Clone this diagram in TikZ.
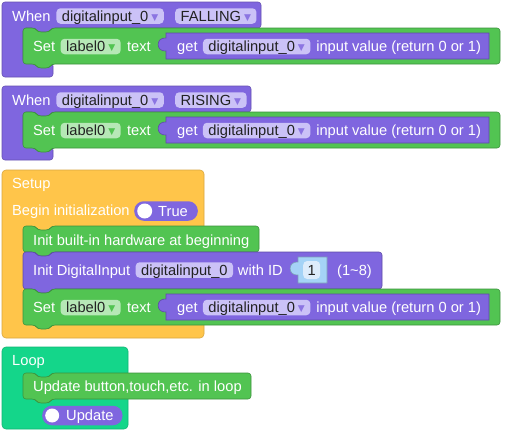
\documentclass[tikz,border=0pt]{standalone}
\usepackage{fontspec}
\setmainfont{Liberation Sans}
\newfontfamily\arrowfont{DejaVu Sans}
\usetikzlibrary{positioning}
\definecolor{blkPurple}{HTML}{7F66DF}
\definecolor{blkGreen}{HTML}{52C452}
\definecolor{blkYellow}{HTML}{FFC54A}
\definecolor{blkTeal}{HTML}{14D68A}
\definecolor{blkBlue}{HTML}{A5D3F6}
\definecolor{fldPurple}{HTML}{CBC2F7}
\definecolor{fldGreen}{HTML}{B6E8B6}
\definecolor{fldBlue}{HTML}{DDECFB}
\definecolor{fldText}{HTML}{222222}
\newcommand{\dropP}{\hspace{3pt}{\arrowfont\fontsize{9}{9}\selectfont\color{blkPurple!90!white}\raisebox{1pt}{▼}}}
\newcommand{\dropG}{\hspace{3pt}{\arrowfont\fontsize{9}{9}\selectfont\color{blkGreen}\raisebox{1pt}{▼}}}
\tikzset{
    blkFont/.style={font=\fontsize{14.67}{17}\selectfont, text height=12pt, text depth=2pt},
    blkLabel/.style={blkFont, text=white, inner sep=0pt, anchor=base west},
    blkField/.style={
        blkFont,
        text=fldText,
        rounded corners=4pt,
        inner xsep=5.5pt,
        inner ysep=0pt,
        minimum height=15.5pt,
        anchor=base west
    },
    % field variants
    fieldP/.style={blkField, fill=fldPurple},
    fieldG/.style={blkField, fill=fldGreen},
    fieldB/.style={blkField, fill=fldBlue, inner xsep=4.4pt, minimum height=18pt},
    toggle/.style={blkFont, text=white, fill=blkPurple, rounded corners=9.5pt, minimum height=19.5pt, inner xsep=0pt, inner ysep=0pt, anchor=west},
    knob/.style={circle, fill=white, minimum size=15pt, inner sep=0pt},
    % block shapes
    blkShape/.style={line width=0.6pt, rounded corners=3pt},
    pics/stmtblock/.style n args={3}{code={
        \filldraw[blkShape, fill=#3, draw=#3!75!black]
            (0,0) -- (12,0) -- (15,4) -- (26,4) -- (29,0) -- (#1,0) -- (#1,#2)
            -- (29,#2) -- (26,#2+4) -- (15,#2+4) -- (12,#2) -- (0,#2) -- cycle;
    }},
    pics/reporter/.style n args={3}{code={
        \filldraw[line width=0.6pt, fill=#3, draw=#3!75!black]
            (0,0) -- (#1,0) -- (#1,#2) -- (0,#2) -- (0,18)
            .. controls (-10.5,19) and (-10.5,4) .. (0,5) -- cycle;
    }}
}

\begin{document}
\begin{tikzpicture}[x=1pt, y=-1pt]
    \fill[white] (0,0) rectangle (507,437);
    \useasboundingbox (0,0) rectangle (507,437);

    % When ... FALLING
    \filldraw[blkShape, fill=blkPurple, draw=blkPurple!80!black]
        (2,2) -- (261,2) -- (261,28) -- (52,28) -- (49,32) -- (38,32) -- (35,28) -- (23,28)
        -- (23,63) -- (53,63) -- (53,77) -- (2,77) -- cycle;
    \pic at (23,28) {stmtblock={477}{36}{blkGreen}};
    \pic at (166,33) {reporter={323}{26}{blkPurple}};
    \node[blkLabel] (when1) at (12,21) {When};
    \node[fieldP, right=5.5pt of when1.base east, anchor=base west] (pin1) {digitalinput\_0\dropP};
    \node[fieldP, right=11pt of pin1.base east, anchor=base west] (edge1) {FALLING\dropP};
    \node[blkLabel] (set1) at (33,51.5) {Set};
    \node[fieldG, right=5pt of set1.base east, anchor=base west] (lbl1) {label0\dropG};
    \node[blkLabel, right=6pt of lbl1.base east, anchor=base west] (txt1) {text};
    \node[blkLabel] (get1) at (177,51.5) {get};
    \node[fieldP, right=5pt of get1.base east, anchor=base west] (pin2) {digitalinput\_0\dropP};
    \node[blkLabel, right=5.5pt of pin2.base east, anchor=base west] (val1) {input value (return 0 or 1)};

    % When ... RISING
    \filldraw[blkShape, fill=blkPurple, draw=blkPurple!80!black]
        (2,86) -- (251,86) -- (251,112) -- (52,112) -- (49,116) -- (38,116) -- (35,112) -- (23,112)
        -- (23,147) -- (53,147) -- (53,160) -- (2,160) -- cycle;
    \pic at (23,112) {stmtblock={477}{36}{blkGreen}};
    \pic at (166,117) {reporter={323}{26}{blkPurple}};
    \node[blkLabel] (when2) at (12,105) {When};
    \node[fieldP, right=5.5pt of when2.base east, anchor=base west] (pin3) {digitalinput\_0\dropP};
    \node[fieldP, right=11pt of pin3.base east, anchor=base west] (edge2) {RISING\dropP};
    \node[blkLabel] (set2) at (33,135.5) {Set};
    \node[fieldG, right=5pt of set2.base east, anchor=base west] (lbl2) {label0\dropG};
    \node[blkLabel, right=6pt of lbl2.base east, anchor=base west] (txt2) {text};
    \node[blkLabel] (get2) at (177,135.5) {get};
    \node[fieldP, right=5pt of get2.base east, anchor=base west] (pin4) {digitalinput\_0\dropP};
    \node[blkLabel, right=5.5pt of pin4.base east, anchor=base west] (val2) {input value (return 0 or 1)};

    % Setup
    \filldraw[blkShape, rounded corners=4pt, fill=blkYellow, draw=blkYellow!85!black] (2,170) rectangle (204,338);
    \node[blkLabel] (setup) at (12,188.5) {Setup};
    \node[blkLabel] (begin) at (12,215) {Begin initialization};
    \node[toggle] (tog1) at (134,211) {\kern24pt True\kern10pt};
    \node[knob, right=3pt of tog1.west] (knob1) {};
    \pic at (23,226) {stmtblock={236}{26}{blkGreen}};
    \pic at (23,252) {stmtblock={359}{37}{blkPurple}};
    \pic at (23,289) {stmtblock={477}{36}{blkGreen}};
    \pic at (298,257) {reporter={29}{26}{blkBlue}};
    \pic at (166,294) {reporter={323}{26}{blkPurple}};
    \node[blkLabel] (hw) at (33,245) {Init built-in hardware at beginning};
    \node[blkLabel] (dinit) at (33,275) {Init DigitalInput};
    \node[fieldP, right=5pt of dinit.base east, anchor=base west] (pin5) {digitalinput\_0};
    \node[blkLabel, right=4.5pt of pin5.base east, anchor=base west] (withid) {with ID};
    \node[fieldB] (idnum) at (303,275) {1};
    \node[blkLabel] (range) at (337,275) {(1\textasciitilde 8)};
    \node[blkLabel] (set3) at (33,312.5) {Set};
    \node[fieldG, right=5pt of set3.base east, anchor=base west] (lbl3) {label0\dropG};
    \node[blkLabel, right=6pt of lbl3.base east, anchor=base west] (txt3) {text};
    \node[blkLabel] (get3) at (177,312.5) {get};
    \node[fieldP, right=5pt of get3.base east, anchor=base west] (pin6) {digitalinput\_0\dropP};
    \node[blkLabel, right=5.5pt of pin6.base east, anchor=base west] (val3) {input value (return 0 or 1)};

    % Loop
    \filldraw[blkShape, rounded corners=4pt, fill=blkTeal, draw=blkTeal!85!black] (2,347) rectangle (128,429);
    \pic at (23,373) {stmtblock={228}{26}{blkGreen}};
    \node[blkLabel] (loop) at (12,365) {Loop};
    \node[blkLabel] (updbtn) at (33,391) {Update button,touch,etc. in loop};
    \node[toggle] (tog2) at (42,415.5) {\kern24pt Update\kern9pt};
    \node[knob, minimum size=14pt, right=3pt of tog2.west] (knob2) {};
\end{tikzpicture}
\end{document}
